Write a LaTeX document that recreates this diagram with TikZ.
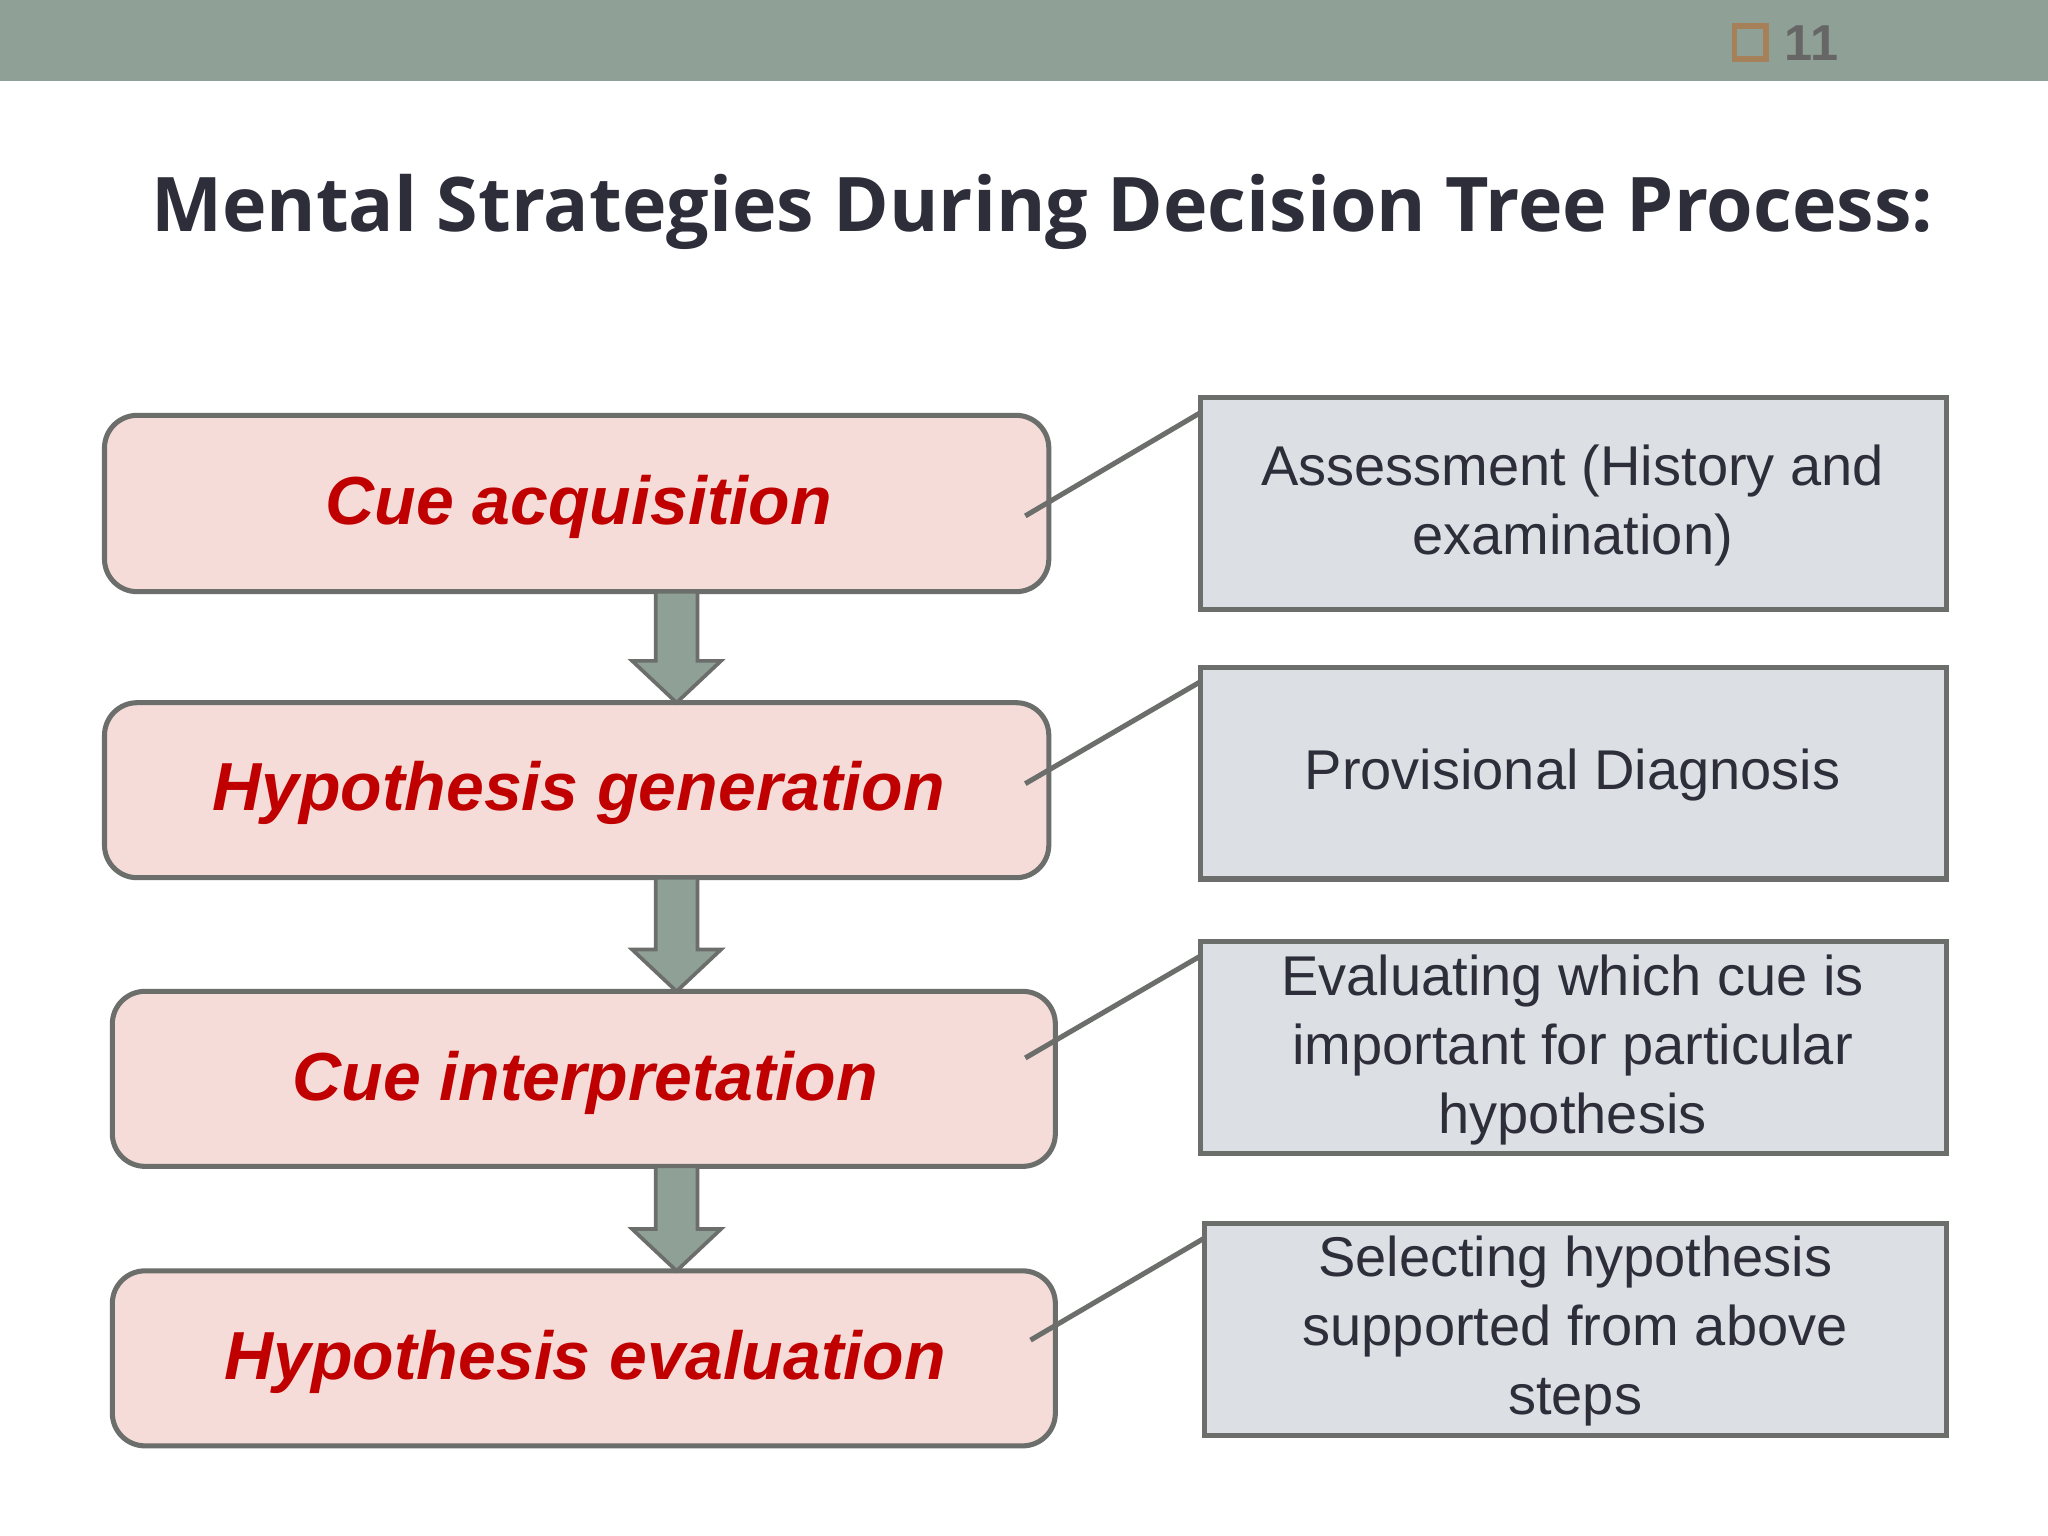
\documentclass[tikz,border=0pt]{standalone}
\usepackage{fontspec}
\setmainfont{Liberation Sans}
\newfontfamily\titlefont{Open Sans}
\definecolor{barc}{HTML}{8FA096}
\definecolor{pinkf}{HTML}{F5DCD8}
\definecolor{bluef}{HTML}{DCE0E4}
\definecolor{edgec}{HTML}{6B6E6B}
\definecolor{redt}{HTML}{C00000}
\definecolor{titc}{HTML}{2E2E3A}
\begin{document}
\begin{tikzpicture}[x=0.01cm,y=-0.01cm,
  stepbox/.style={draw=edgec,line width=1.1pt,fill=pinkf,rounded corners=0.25cm},
  infobox/.style={draw=edgec,line width=1.1pt,fill=bluef},
  steptext/.style={text=redt,font=\fontsize{14.8}{18}\selectfont\bfseries\itshape},
  infotext/.style={text=titc,align=center,font=\fontsize{12.2}{15}\selectfont},
  link/.style={draw=edgec,line width=1.1pt},
  flow/.style={draw=edgec,line width=0.8pt,fill=barc}]
\useasboundingbox (0,0) rectangle (1568,1176);
\fill[white] (0,0) rectangle (1568,1176);
\fill[barc] (0,0) rectangle (1568,62);
\draw[draw=brown!60!gray,line width=1.2pt] (1328,20) rectangle (1352,45);
\node[anchor=west,text=gray!80!black,font=\fontsize{11}{13}\selectfont\bfseries] (pg) at (1354,33) {11};
\node[text=titc,font=\titlefont\fontsize{16.4}{20}\selectfont\bfseries] (title) at (798,162) {Mental Strategies During Decision Tree Process:};
% left boxes
\draw[stepbox] (80,318) rectangle (803,453);
\draw[stepbox] (80,538) rectangle (803,672);
\draw[stepbox] (86,759) rectangle (808,893);
\draw[stepbox] (86,973) rectangle (808,1107);
\node[steptext] (s1) at (443,388) {Cue acquisition};
\node[steptext] (s2) at (443,607) {Hypothesis generation};
\node[steptext] (s3) at (448,829) {Cue interpretation};
\node[steptext] (s4) at (448,1043) {Hypothesis evaluation};
% arrows
\foreach \t/\b in {453/538,672/759,893/973}{
  \draw[flow] (502,\t) -- (534,\t) -- (534,\b-32) -- (552,\b-32) -- (518,\b) -- (484,\b-32) -- (502,\b-32) -- cycle;}
% right boxes
\draw[infobox] (919,304) rectangle (1490,467);
\draw[infobox] (919,511) rectangle (1490,673);
\draw[infobox] (919,721) rectangle (1490,883);
\draw[infobox] (922,937) rectangle (1490,1099);
\node[infotext] (i1) at (1204,387) {Assessment (History and\\examination)};
\node[infotext] (i2) at (1204,593) {Provisional Diagnosis};
\node[infotext] (i3) at (1204,804) {Evaluating which cue is\\important for particular\\hypothesis};
\node[infotext] (i4) at (1206,1019) {Selecting hypothesis\\supported from above\\steps};
% connectors
\coordinate (a1) at (785,395); \coordinate (b1) at (919,316);
\coordinate (a2) at (785,600); \coordinate (b2) at (919,522);
\coordinate (a3) at (785,810); \coordinate (b3) at (919,732);
\coordinate (a4) at (789,1026); \coordinate (b4) at (922,948);
\foreach \k in {1,2,3,4}{\draw[link] (a\k) -- (b\k);}
\end{tikzpicture}
\end{document}
